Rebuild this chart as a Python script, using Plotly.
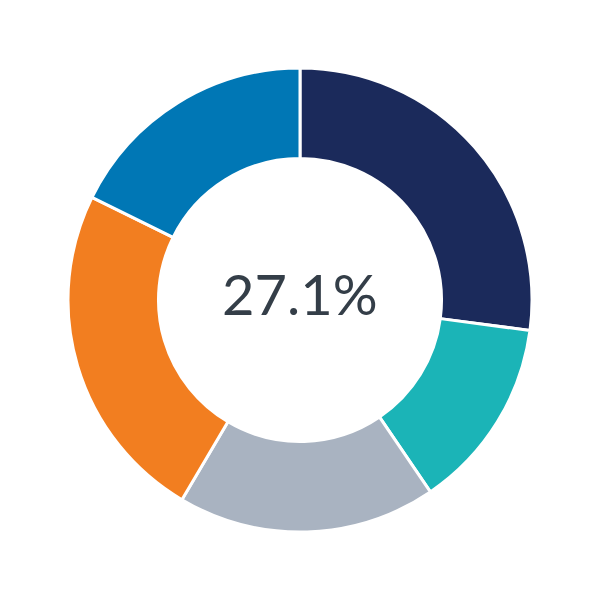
import plotly.graph_objects as go

# slice shares (percent), clockwise from 12 o'clock
labels = ['A', 'B', 'C', 'D', 'E']
values = [27.1, 13.4, 18.0, 23.8, 17.7]
colors = ['#1B2A5B', '#1BB4B7', '#A9B3C1', '#F27E20', '#0077B5']
center_text = '27.1%'

fig = go.Figure(go.Pie(
    labels=labels,
    values=values,
    hole=0.61,
    sort=False,
    direction='clockwise',
    rotation=0,
    marker=dict(colors=colors, line=dict(color='white', width=3)),
    textinfo='none',
    hoverinfo='label+percent',
))

# page body adds an 8px offset, so shift the plot area up/left to stay centred
fig.update_layout(
    width=600, height=600,
    margin=dict(l=60, r=76, t=60, b=76),
    showlegend=False,
    paper_bgcolor='white',
    annotations=[dict(text=center_text, x=0.5, y=0.5, xref='paper', yref='paper',
                      showarrow=False, yshift=7,
                      font=dict(family='Lato', size=56, color='#343E48'))],
)

fig.write_html("out.html")
